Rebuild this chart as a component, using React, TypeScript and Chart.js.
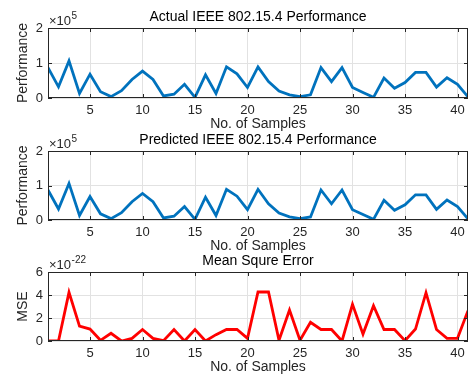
import React, { useEffect, useRef } from "react";
import { Chart, registerables } from "chart.js";

Chart.register(...registerables);

// Sample indices (x categories)
const samples = [
  1, 2, 3, 4, 5, 6, 7, 8, 9, 10, 11, 12, 13, 14, 15, 16, 17, 18, 19, 20, 21,
  22, 23, 24, 25, 26, 27, 28, 29, 30, 31, 32, 33, 34, 35, 36, 37, 38, 39, 40, 41,
];

// Actual performance, in units of 10^5
const actualE5 = [
  0.87, 0.32, 1.06, 0.13, 0.68, 0.18, 0.04, 0.21, 0.53, 0.77, 0.53, 0.06, 0.11,
  0.39, 0.02, 0.66, 0.13, 0.89, 0.69, 0.3, 0.89, 0.47, 0.2, 0.09, 0.04, 0.09,
  0.87, 0.47, 0.87, 0.3, 0.16, 0.02, 0.57, 0.28, 0.44, 0.73, 0.73, 0.31, 0.58,
  0.39, 0.03,
];

// Predicted performance, in units of 10^5
const predictedE5 = [
  0.87, 0.32, 1.06, 0.13, 0.68, 0.18, 0.04, 0.21, 0.53, 0.77, 0.53, 0.06, 0.11,
  0.39, 0.02, 0.66, 0.13, 0.89, 0.69, 0.3, 0.89, 0.47, 0.2, 0.09, 0.04, 0.09,
  0.87, 0.47, 0.87, 0.3, 0.16, 0.02, 0.57, 0.28, 0.44, 0.73, 0.73, 0.31, 0.58,
  0.39, 0.03,
];

// Mean square error, in units of 10^-22
const mseE22 = [
  0, 0, 4.23, 1.3, 1.04, 0.06, 0.67, 0, 0.23, 1.0, 0.23, 0.03, 1.0, 0, 1.0, 0,
  0.55, 1.0, 1.0, 0.23, 4.26, 4.26, 0.06, 2.7, 0.06, 1.62, 1.0, 1.0, 0, 3.19,
  0.6, 3.07, 1.0, 1.0, 0.03, 1.04, 4.2, 1.0, 0.23, 0.23, 2.64,
];

const xTicks = [5, 10, 15, 20, 25, 30, 35, 40];
const perfTicks = [0, 1, 2];
const mseTicks = [0, 2, 4, 6];

const FONT = '"Liberation Sans", Arial, Helvetica, sans-serif';
const W = 474;
const H = 377;
const LEFT = 48;
const RIGHT = 468;
const TEXT = "#262626";

type PanelCfg = {
  title: string;
  yLabel: string;
  expBase: string;
  expSup: string;
  values: number[];
  color: string;
  yTicks: number[];
  top: number;
  bottom: number;
};

const panels: PanelCfg[] = [
  {
    title: "Actual IEEE 802.15.4 Performance",
    yLabel: "Performance",
    expBase: "×10",
    expSup: "5",
    values: actualE5,
    color: "#0072BD",
    yTicks: perfTicks,
    top: 28,
    bottom: 98,
  },
  {
    title: "Predicted IEEE 802.15.4 Performance",
    yLabel: "Performance",
    expBase: "×10",
    expSup: "5",
    values: predictedE5,
    color: "#0072BD",
    yTicks: perfTicks,
    top: 151,
    bottom: 220,
  },
  {
    title: "Mean Squre Error",
    yLabel: "MSE",
    expBase: "×10",
    expSup: "-22",
    values: mseE22,
    color: "#FF0000",
    yTicks: mseTicks,
    top: 272,
    bottom: 341,
  },
];

function Panel({ cfg }: { cfg: PanelCfg }) {
  const ref = useRef<HTMLCanvasElement | null>(null);

  useEffect(() => {
    if (!ref.current) return;
    const decor = {
      id: "decor",
      afterDatasetsDraw(chart: any) {
        const ctx = chart.ctx as CanvasRenderingContext2D;
        const a = chart.chartArea;
        const xs = chart.scales.x;
        const ys = chart.scales.y;
        ctx.save();
        // box
        ctx.strokeStyle = TEXT;
        ctx.lineWidth = 1;
        ctx.strokeRect(a.left + 0.5, a.top + 0.5, a.right - a.left - 1, a.bottom - a.top - 1);
        // inward ticks
        ctx.beginPath();
        for (const t of xTicks) {
          const px = Math.round(xs.getPixelForValue(t)) + 0.5;
          ctx.moveTo(px, a.bottom);
          ctx.lineTo(px, a.bottom - 4);
          ctx.moveTo(px, a.top);
          ctx.lineTo(px, a.top + 4);
        }
        for (const t of cfg.yTicks) {
          const py = Math.round(ys.getPixelForValue(t)) + 0.5;
          ctx.moveTo(a.left, py);
          ctx.lineTo(a.left + 4, py);
          ctx.moveTo(a.right, py);
          ctx.lineTo(a.right - 4, py);
        }
        ctx.stroke();
        // title
        const cx = (a.left + a.right) / 2;
        ctx.fillStyle = "#000";
        ctx.font = `14px ${FONT}`;
        ctx.textAlign = "center";
        ctx.textBaseline = "middle";
        ctx.fillText(cfg.title, cx, a.top - 11);
        // x label
        ctx.fillStyle = TEXT;
        ctx.font = `14px ${FONT}`;
        ctx.fillText("No. of Samples", cx, a.bottom + 26);
        // y label
        ctx.save();
        ctx.translate(23, (a.top + a.bottom) / 2);
        ctx.rotate(-Math.PI / 2);
        ctx.fillText(cfg.yLabel, 0, 0);
        ctx.restore();
        // exponent
        ctx.textAlign = "left";
        ctx.textBaseline = "alphabetic";
        ctx.font = `13px ${FONT}`;
        ctx.fillText(cfg.expBase, a.left + 1, a.top - 3);
        const wBase = ctx.measureText(cfg.expBase).width;
        ctx.font = `10px ${FONT}`;
        ctx.fillText(cfg.expSup, a.left + 1 + wBase + 0.5, a.top - 9);
        ctx.restore();
      },
    };

    const chart = new Chart(ref.current, {
      type: "line",
      data: {
        datasets: [
          {
            data: samples.map((s, i) => ({ x: s, y: cfg.values[i] })),
            borderColor: cfg.color,
            backgroundColor: cfg.color,
            borderWidth: 2.8,
            pointRadius: 0,
            tension: 0,
            fill: false,
            borderJoinStyle: "miter",
          },
        ],
      },
      options: {
        animation: false,
        responsive: false,
        devicePixelRatio: 1,
        events: [],
        layout: {
          padding: {
            left: LEFT - 20,
            right: W - RIGHT,
            top: cfg.top,
            bottom: H - cfg.bottom - 30,
          },
        },
        plugins: {
          legend: { display: false },
          tooltip: { enabled: false },
          title: { display: false },
        },
        scales: {
          x: {
            type: "linear",
            min: 1,
            max: 41,
            afterBuildTicks: (s: any) => {
              s.ticks = xTicks.map((v) => ({ value: v }));
            },
            afterFit: (s: any) => {
              s.height = 30;
            },
            grid: { color: "#e2e2e2", lineWidth: 1, drawTicks: false },
            border: { display: false },
            ticks: {
              padding: 5,
              color: TEXT,
              font: { family: FONT, size: 13 },
              maxRotation: 0,
              autoSkip: false,
            },
          },
          y: {
            type: "linear",
            min: cfg.yTicks[0],
            max: cfg.yTicks[cfg.yTicks.length - 1],
            afterBuildTicks: (s: any) => {
              s.ticks = cfg.yTicks.map((v) => ({ value: v }));
            },
            afterFit: (s: any) => {
              s.width = 20;
            },
            grid: { color: "#e2e2e2", lineWidth: 1, drawTicks: false },
            border: { display: false },
            ticks: {
              padding: 5,
              color: TEXT,
              font: { family: FONT, size: 13 },
              autoSkip: false,
            },
          },
        },
      },
      plugins: [decor],
    } as any);
    return () => chart.destroy();
  }, [cfg]);

  return (
    <canvas
      ref={ref}
      width={W}
      height={H}
      style={{ position: "absolute", left: 0, top: 0, width: W, height: H }}
    />
  );
}

export default function App() {
  return (
    <div
      style={{
        position: "fixed",
        left: 0,
        top: 0,
        width: W,
        height: H,
        background: "#fff",
        overflow: "hidden",
      }}
    >
      {panels.map((p, i) => (
        <Panel key={i} cfg={p} />
      ))}
    </div>
  );
}
